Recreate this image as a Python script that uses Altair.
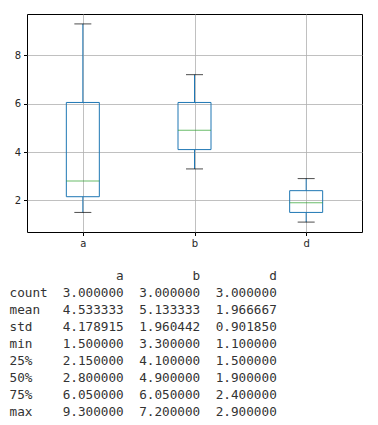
import altair as alt
import pandas as pd

# ---- data ----
columns = ["a", "b", "d"]
stat_names = ["count", "mean", "std", "min", "25%", "50%", "75%", "max"]
a_stats = [3.0, 4.533333, 4.178915, 1.5, 2.15, 2.8, 6.05, 9.3]
b_stats = [3.0, 5.133333, 1.960442, 3.3, 4.1, 4.9, 6.05, 7.2]
d_stats = [3.0, 1.966667, 0.901850, 1.1, 1.5, 1.9, 2.4, 2.9]
y_ticks = [2, 4, 6, 8]

stats = {"a": a_stats, "b": b_stats, "d": d_stats}
keys = ["count", "mean", "std", "min", "q1", "med", "q3", "max"]

box_df = pd.DataFrame(
    [{"col": c, **dict(zip(keys, stats[c]))} for c in columns]
)

lo = min(box_df["min"])
hi = max(box_df["max"])
margin = 0.05 * (hi - lo)
y_domain = [lo - margin, hi + margin]

BLUE = "#1f77b4"
GREEN = "#2ca02c"
TXT = "#262626"
LEFT = 18  # room left of the plot frame for y labels / table index

x_enc = alt.X(
    "col:N",
    sort=columns,
    scale=alt.Scale(type="point", padding=0.5),
    axis=alt.Axis(
        title=None, labelAngle=0, grid=True, domain=False,
        tickSize=3.5, tickColor="black", labelPadding=3,
        labelFont="DejaVu Sans", labelFontSize=10, labelColor=TXT,
        gridColor="#b0b0b0", gridWidth=0.8,
    ),
)


def y_enc(field):
    return alt.Y(
        f"{field}:Q",
        title=None,
        scale=alt.Scale(domain=y_domain, nice=False, zero=False),
        axis=alt.Axis(
            values=y_ticks, grid=True, domain=False,
            tickSize=3.5, tickColor="black", labelPadding=3,
            labelFont="DejaVu Sans", labelFontSize=10, labelColor=TXT,
            gridColor="#b0b0b0", gridWidth=0.8, minExtent=LEFT,
        ),
    )


base = alt.Chart(box_df)
whisk_lo = base.mark_rule(color=BLUE, strokeWidth=1).encode(
    x=x_enc, y=y_enc("min"), y2="q1:Q")
whisk_hi = base.mark_rule(color=BLUE, strokeWidth=1).encode(
    x=x_enc, y=y_enc("q3"), y2="max:Q")
box = base.mark_bar(size=33, fillOpacity=0, stroke=BLUE, strokeWidth=1).encode(
    x=x_enc, y=y_enc("q1"), y2="q3:Q")
med = base.mark_tick(size=33, thickness=1, color=GREEN).encode(
    x=x_enc, y=y_enc("med"))
cap_lo = base.mark_tick(size=17, thickness=1, color="black").encode(
    x=x_enc, y=y_enc("min"))
cap_hi = base.mark_tick(size=17, thickness=1, color="black").encode(
    x=x_enc, y=y_enc("max"))

top = alt.layer(whisk_lo, whisk_hi, box, med, cap_lo, cap_hi).properties(
    width=335, height=218,
    view=alt.ViewBackground(stroke="black", strokeWidth=1),
)

# ---- describe() table as text ----
fmt = {c: [f"{v:.6f}" for v in stats[c]] for c in columns}
idx_w = max(len(s) for s in stat_names)
ends = []
pos = idx_w
for c in columns:
    w = max(len(c), max(len(s) for s in fmt[c]))
    pos += 2 + w
    ends.append(pos)

row_labels = [""] + stat_names
recs = []
for c, e in zip(columns, ends):
    recs.append({"r": 0, "pos": e, "text": c})
for i, name in enumerate(stat_names):
    for c, e in zip(columns, ends):
        recs.append({"r": i + 1, "pos": e, "text": fmt[c][i]})
table_df = pd.DataFrame(recs)

FS = 12.7
CW = FS * 0.6024  # DejaVu Sans Mono advance width
MONO = "DejaVu Sans Mono"
label_expr = "[" + ",".join(f"'{s}'" for s in row_labels) + "][datum.value]"

tx = alt.X("pos:Q", axis=None,
           scale=alt.Scale(domain=[0, ends[-1]], range=[-LEFT, -LEFT + ends[-1] * CW],
                           nice=False, zero=False))
ty = alt.Y("r:O", scale=alt.Scale(paddingInner=0, paddingOuter=0,
                                  domain=list(range(len(row_labels)))),
           axis=alt.Axis(title=None, domain=False, ticks=False, grid=False,
                         labelAlign="left", labelPadding=LEFT, labelExpr=label_expr,
                         labelFont=MONO, labelFontSize=FS, labelColor="#333333",
                         labelBaseline="middle"))
table = alt.Chart(table_df).mark_text(
    align="right", font=MONO, fontSize=FS, color="#333333", baseline="middle"
).encode(x=tx, y=ty, text="text:N").properties(
    width=250, height=153,
    view=alt.ViewBackground(stroke="transparent"),
)

chart = alt.concat(top, table, columns=1, spacing=17).properties(
    padding={"left": 0, "top": 5, "right": 5, "bottom": 0},
    background="white",
)

chart.save("out.html", embed_options={"renderer": "svg", "actions": False})
